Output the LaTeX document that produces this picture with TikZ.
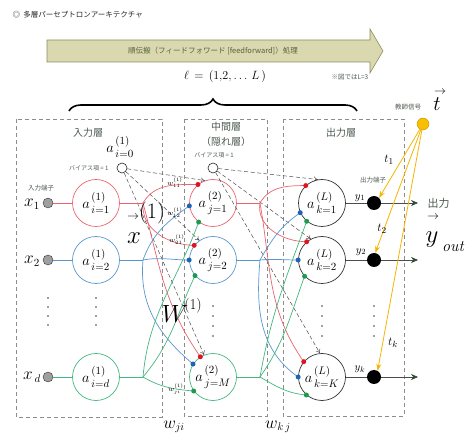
\documentclass[tikz,border=0pt]{standalone}
\usepackage{fontspec}
\usepackage{amsmath}
\usetikzlibrary{arrows.meta,decorations.pathreplacing}
\newfontfamily\jpfont{Noto Sans CJK JP}

\definecolor{nnred}{HTML}{E8646E}
\definecolor{nnblue}{HTML}{5A96CC}
\definecolor{nngreen}{HTML}{43B77F}
\definecolor{dotred}{HTML}{E0141E}
\definecolor{dotblue}{HTML}{1E64B4}
\definecolor{dotgreen}{HTML}{1E9A50}
\definecolor{olivefill}{HTML}{D9D8AE}
\definecolor{oliveline}{HTML}{8E8E60}
\definecolor{labelgray}{HTML}{4D5A50}
\definecolor{teach}{HTML}{F5B400}
\definecolor{outgreen}{HTML}{2E4A34}

\begin{document}
\begin{tikzpicture}[x=1pt,y=-1pt,
  unit/.style={circle,draw=#1,line width=0.7pt,minimum size=47pt,inner sep=0pt,font=\fontsize{15}{15}\selectfont},
  interm/.style={circle,draw=gray!40!black,fill=gray!75,minimum size=10pt,inner sep=0pt},
  outterm/.style={circle,fill=black,minimum size=14pt,inner sep=0pt},
  biasnode/.style={circle,draw=gray!30!black,fill=white,line width=0.6pt,minimum size=10pt,inner sep=0pt},
  wdot/.style={circle,fill=#1,minimum size=5pt,inner sep=0pt},
  layerbox/.style={draw=gray!90,line width=0.8pt,dash pattern=on 4pt off 3pt},
  biasarr/.style={draw=gray!60!black,line width=0.5pt,dash pattern=on 4pt off 2.5pt,-{To[length=4pt,width=5pt]}},
  conn/.style={draw=#1,line width=0.7pt},
  teacharr/.style={draw=teach,line width=0.8pt,-{Stealth[length=7pt,width=5pt]}},
  jptext/.style={font=\jpfont\fontsize{#1}{#1}\selectfont,text=labelgray},
  vdot/.style={circle,fill=gray!50!black,minimum size=1.6pt,inner sep=0pt}]
  \useasboundingbox (0,0) rectangle (474,443);

  % title
  \node[font=\jpfont\fontsize{7.5}{7.5}\selectfont,text=gray!30!black,anchor=west] (title) at (9,15) {◎\ \ 多層パーセプトロンアーキテクチャ};

  % feedforward arrow
  \draw[fill=olivefill,draw=oliveline,line width=0.6pt] (47,40) -- (370,40) -- (370,29) -- (383,51)
    -- (370,73) -- (370,62) -- (47,62) -- cycle;
  \node[font=\jpfont\fontsize{7.5}{7.5}\selectfont,text=labelgray!80!olive] (fftext) at (213,51) {順伝搬（フィードフォワード [feedforward]）処理};

  \node[font=\fontsize{12}{12}\selectfont] (lnum) at (225,77) {$\ell\,=\,(1{,}2{,}\ldots\,L\,)$};
  \node[jptext=6.5,anchor=west] (lnote) at (328,77) {※図ではL=3};
  \coordinate (brl) at (69,111);
  \coordinate (brr) at (357,111);
  \draw[line width=1.6pt,decorate,decoration={brace,amplitude=12pt}] (brl) -- (brr);

  % layer boxes
  \draw[layerbox] (16,119) rectangle (162,417);
  \draw[layerbox] (184,119) rectangle (267,416);
  \draw[layerbox] (283,119) rectangle (404,416);
  \node[jptext=10] (inlay) at (88,133) {入力層};
  \node[jptext=10] (midlay) at (226,127) {中間層};
  \node[jptext=10] (midlay2) at (226,142) {（隠れ層）};
  \node[jptext=10] (outlay) at (341,133) {出力層};

  % input terminals and units
  \node[interm] (xt1) at (48,203) {};
  \node[interm] (xt2) at (48,260) {};
  \node[interm] (xtd) at (48,377) {};
  \node[font=\fontsize{16}{16}\selectfont] (xl1) at (32,204) {$x_{1}$};
  \node[font=\fontsize{16}{16}\selectfont] (xl2) at (32,261) {$x_{2}$};
  \node[font=\fontsize{16}{16}\selectfont] (xld) at (32,377) {$x_{\,d}$};
  \node[jptext=6.5] (interlbl) at (41,188) {入力端子};

  \node[unit=nnred] (in1) at (96,203) {$a^{\,(1)}_{\,i=1}$};
  \node[unit=nnblue] (in2) at (96,260) {$a^{\,(1)}_{\,i=2}$};
  \node[unit=nngreen] (ind) at (96,377) {$a^{\,(1)}_{\,i=d}$};

  \node[biasnode] (bias1) at (122,168) {};
  \node[font=\fontsize{15}{15}\selectfont] (bias1lbl) at (120,147) {$a^{\,(1)}_{\,i=0}$};
  \node[jptext=6,anchor=east] (bias1txt) at (112,168) {\itshape バイアス項 = 1};

  % hidden units
  \node[unit=nnred] (hid1) at (213,203) {$a^{\,(2)}_{\,j=1}$};
  \node[unit=nnblue] (hid2) at (213,260) {$a^{\,(2)}_{\,j=2}$};
  \node[unit=nngreen] (hidM) at (213,377) {$a^{\,(2)}_{\,j=M}$};
  \node[biasnode] (bias2) at (213,168) {};
  \node[jptext=6] (bias2txt) at (214,155) {\itshape バイアス項 = 1};

  % output units and terminals
  \node[unit=gray!40!black] (out1) at (322,203) {$a^{\,(L)}_{\,k=1}$};
  \node[unit=gray!40!black] (out2) at (322,260) {$a^{\,(L)}_{\,k=2}$};
  \node[unit=gray!40!black] (outK) at (322,377) {$a^{\,(L)}_{\,k=K}$};
  \node[outterm] (yt1) at (374,203) {};
  \node[outterm] (yt2) at (374,260) {};
  \node[outterm] (ytK) at (374,377) {};
  \node[font=\fontsize{11}{11}\selectfont] (yl1) at (360,198) {$y_{1}$};
  \node[font=\fontsize{11}{11}\selectfont] (yl2) at (361,252) {$y_{2}$};
  \node[font=\fontsize{11}{11}\selectfont] (ylK) at (360,369) {$y_{k}$};
  \node[jptext=6.5] (outterlbl) at (373,180) {出力端子};
  \coordinate (ye1) at (418,203);
  \coordinate (ye2) at (418,260);
  \coordinate (yeK) at (418,377);
  \node[jptext=11,anchor=west] (outtxt) at (424,203) {出力};

  % vertical dots
  \foreach \px in {48,96}
    \foreach \py in {298,307,316,325}
      \node[vdot] at (\px,\py) {};
  \foreach \px in {213,322,374}
    \foreach \py in {306,316,326,336}
      \node[vdot] at (\px,\py) {};

  % dot positions on the hidden units
  \coordinate (h1r) at (hid1.129);
  \coordinate (h1b) at (hid1.187);
  \coordinate (h1g) at (hid1.233);
  \coordinate (h2r) at (hid2.142);
  \coordinate (h2b) at (hid2.180);
  \coordinate (h2g) at (hid2.221);
  \coordinate (hMr) at (hidM.122);
  \coordinate (hMb) at (hidM.147);
  \coordinate (hMg) at (hidM.216);
  % dot positions on the output units
  \coordinate (o1r) at (out1.133);
  \coordinate (o1b) at (out1.204);
  \coordinate (o1g) at (out1.230);
  \coordinate (o2r) at (out2.130);
  \coordinate (o2b) at (out2.180);
  \coordinate (o2g) at (out2.223);
  \coordinate (oKr) at (outK.140);
  \coordinate (oKb) at (outK.180);
  \coordinate (oKg) at (outK.229);

  % branch points
  \coordinate (ib1) at (143,203);
  \coordinate (ib2) at (143,260);
  \coordinate (ibd) at (143,377);
  \coordinate (hb1) at (260,203);
  \coordinate (hb2) at (260,260);
  \coordinate (hbM) at (260,377);

  % bias connections
  \draw[biasarr] (bias1) -- (hid1.110);
  \draw[biasarr] (bias1) -- (hid2.125);
  \draw[biasarr] (bias1) -- (hidM.112);
  \draw[biasarr] (bias2) -- (out1.100);
  \draw[biasarr] (bias2) -- (out2.118);
  \draw[biasarr] (bias2) -- (outK.95);

  % input -> hidden
  \draw[conn=nnred] (xt1) -- (in1) (in1) -- (ib1);
  \draw[conn=nnred] (ib1) to[out=60,in=180] (h1r);
  \draw[conn=nnred] (ib1) to[out=-95,in=180] (h2r);
  \draw[conn=nnred] (ib1) to[out=-75,in=125] (hMr);
  \draw[conn=nnblue] (xt2) -- (in2) (in2) -- (ib2);
  \draw[conn=nnblue] (ib2) to[out=70,in=215] (h1b);
  \draw[conn=nnblue] (ib2) to[out=10,in=180] (h2b);
  \draw[conn=nnblue] (ib2) to[out=-95,in=140] (hMb);
  \draw[conn=nngreen] (xtd) -- (ind) (ind) -- (ibd);
  \draw[conn=nngreen] (ibd) to[out=85,in=250] (h1g);
  \draw[conn=nngreen] (ibd) to[out=50,in=245] (h2g);
  \draw[conn=nngreen] (ibd) to[out=-30,in=175] (hMg);

  % hidden -> output
  \draw[conn=nnred] (hid1) -- (hb1);
  \draw[conn=nnred] (hb1) to[out=60,in=180] (o1r);
  \draw[conn=nnred] (hb1) to[out=-100,in=180] (o2r);
  \draw[conn=nnred] (hb1) to[out=-80,in=125] (oKr);
  \draw[conn=nnblue] (hid2) -- (hb2);
  \draw[conn=nnblue] (hb2) to[out=60,in=215] (o1b);
  \draw[conn=nnblue] (hb2) to[out=5,in=180] (o2b);
  \draw[conn=nnblue] (hb2) to[out=-95,in=145] (oKb);
  \draw[conn=nngreen] (hidM) -- (hbM);
  \draw[conn=nngreen] (hbM) to[out=80,in=250] (o1g);
  \draw[conn=nngreen] (hbM) to[out=55,in=250] (o2g);
  \draw[conn=nngreen] (hbM) to[out=-30,in=175] (oKg);

  % weight dots
  \foreach \d in {h1r,h2r,hMr,o1r,o2r,oKr}
    \node[wdot=dotred] (\d dot) at (\d) {};
  \foreach \d in {h1b,h2b,hMb,o1b,o2b,oKb}
    \node[wdot=dotblue] (\d dot) at (\d) {};
  \foreach \d in {h1g,h2g,hMg,o1g,o2g,oKg}
    \node[wdot=dotgreen] (\d dot) at (\d) {};

  % weight labels
  \node[font=\fontsize{7}{7}\selectfont] (w11) at (175,183) {$w^{(1)}_{11}$};
  \node[font=\fontsize{7}{7}\selectfont] (w12) at (175,213) {$w^{(1)}_{12}$};
  \node[font=\fontsize{7}{7}\selectfont] (w21) at (177,240) {$w^{(1)}_{21}$};
  \node[font=\fontsize{7}{7}\selectfont] (wji1) at (176,389) {$w^{(1)}_{ji}$};
  \node[font=\fontsize{16}{16}\selectfont] (wji) at (174,427) {$w_{ji}$};
  \node[font=\fontsize{16}{16}\selectfont] (wkj) at (278,427) {$w_{k\,j}$};

  % vector x and matrix W
  \node[font=\fontsize{13}{13}\selectfont] (xarr) at (133,217) {$\rightarrow$};
  \node[font=\fontsize{22}{22}\selectfont] (xsup) at (152,213) {(1)};
  \node[font=\fontsize{30}{30}\selectfont] (xbig) at (134,238) {$x$};
  \node[font=\fontsize{34}{34}\selectfont] (wbig) at (175,314) {$W$};
  \node[font=\fontsize{15}{15}\selectfont] (wsup) at (193,306) {(1)};

  % output lines
  \draw[draw=gray!60!black,line width=0.6pt] (out1) -- (yt1);
  \draw[draw=gray!60!black,line width=0.6pt] (out2) -- (yt2);
  \draw[draw=gray!60!black,line width=0.6pt] (outK) -- (ytK);
  \draw[draw=gray!60!black,line width=0.6pt,-{Stealth[length=7pt,width=6pt,color=outgreen]}] (yt1) -- (ye1);
  \draw[draw=gray!60!black,line width=0.6pt,-{Stealth[length=7pt,width=6pt,color=outgreen]}] (yt2) -- (ye2);
  \draw[draw=gray!60!black,line width=0.6pt,-{Stealth[length=7pt,width=6pt,color=outgreen]}] (ytK) -- (yeK);
  \node[font=\fontsize{12}{12}\selectfont] (yarr) at (433,217) {$\rightarrow$};
  \node[font=\fontsize{28}{28}\selectfont] (ybig) at (432,240) {$y$};
  \node[font=\fontsize{16}{16}\selectfont] (ysub) at (453,247) {$\mathit{out}$};

  % teacher signal
  \node[circle,fill=teach!85!yellow,draw=teach!80!black,minimum size=12pt,inner sep=0pt] (teacher) at (423,124) {};
  \node[jptext=6.5] (teachlbl) at (408,107) {教師信号};
  \node[font=\fontsize{12}{12}\selectfont] (tarr) at (440,92) {$\rightarrow$};
  \node[font=\fontsize{20}{20}\selectfont] (tbig) at (437,104) {$t$};
  \draw[teacharr] (teacher) -- (yt1.45);
  \draw[teacharr] (teacher) -- (yt2.80);
  \draw[teacharr] (teacher) -- (ytK.60);
  \node[font=\fontsize{13}{13}\selectfont] (t1) at (389,160) {$t_{1}$};
  \node[font=\fontsize{13}{13}\selectfont] (t2) at (382,229) {$t_{2}$};
  \node[font=\fontsize{13}{13}\selectfont] (tk) at (393,343) {$t_{k}$};
\end{tikzpicture}
\end{document}
